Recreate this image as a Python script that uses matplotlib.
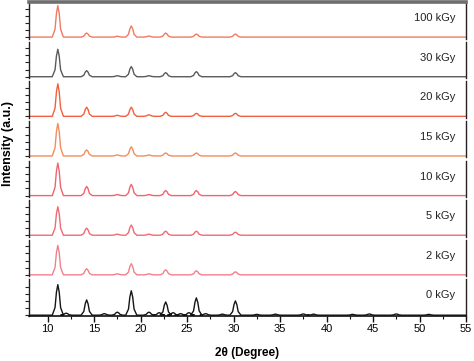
import matplotlib
matplotlib.use("Agg")
import matplotlib.pyplot as plt
import numpy as np

plt.rcParams['font.family'] = ['Liberation Sans', 'DejaVu Sans']

# ---- data ----
labels = ["100 kGy", "30 kGy", "20 kGy", "15 kGy", "10 kGy", "5 kGy", "2 kGy", "0 kGy"]
colors = ["#f07a62", "#5a5a5a", "#f0603e", "#f48c5c", "#ee6470", "#ef6a74", "#f2808a", "#151515"]

peak_pos = [11.1, 12.0, 14.2, 16.1, 17.5, 19.0, 20.9, 22.0, 22.7, 23.5, 24.3, 25.2,
            26.0, 27.0, 28.8, 30.2, 32.5, 34.5, 37.5, 38.6, 42.8, 44.6, 47.5, 51.0]

h_100 = [31, 0, 4, 0, 0.8, 11, 1, 0, 4, 0, 0, 0, 3, 0, 0, 3, 0, 0, 0, 0, 0, 0, 0, 0]
h_30  = [27, 0, 6, 0, 1, 10, 1, 0, 4, 0, 0, 0, 5, 0, 0, 4, 0, 0, 0, 0, 0, 0, 0, 0]
h_20  = [32, 0, 9, 0, 1, 9, 1.5, 0, 4, 0, 0, 0, 3, 0, 0, 3, 0, 0, 0, 0, 0, 0, 0, 0]
h_15  = [32, 0, 6, 0, 1, 9, 1, 0, 3, 0, 0, 0, 3, 0, 0, 3, 0, 0, 0, 0, 0, 0, 0, 0]
h_10  = [32, 0, 9, 0, 1, 11, 1, 0, 5, 0, 0, 0, 5, 0, 0, 4, 0, 0, 0, 0, 0, 0, 0, 0]
h_5   = [28, 0, 7, 0, 1, 10, 1, 0, 4, 0, 0, 0, 4, 0, 0, 3, 0, 0, 0, 0, 0, 0, 0, 0]
h_2   = [29, 0, 6, 0, 1, 11, 1, 0, 5, 0, 0, 0, 4, 0, 0, 3, 0, 0, 0, 0, 0, 0, 0, 0]
h_0   = [30, 2, 15, 1.5, 3, 24, 3, 2.5, 13, 2.5, 1.5, 2.5, 17, 1.5, 1, 14, 0.8, 1, 1.2, 1, 0.8, 1.2, 1.2, 0.8]

heights = [h_100, h_30, h_20, h_15, h_10, h_5, h_2, h_0]

xticks = [10, 15, 20, 25, 30, 35, 40, 45, 50, 55]

# ---- layout ----
W, H = 474, 361
fig = plt.figure(figsize=(W / 100, H / 100), dpi=100)
left_px, right_px = 29, 466
top_px, bottom_px = 2, 316
gap = 3.0
pitch = (bottom_px - top_px + gap) / 8
ph = pitch - gap

# peak outline: offsets (deg) and fraction of peak height
shape_dx = [-0.6, -0.3, -0.15, 0.0, 0.15, 0.3, 0.6]
shape_fy = [0.0, 0.25, 0.75, 1.0, 0.75, 0.25, 0.0]

for i, (lab, col, hs) in enumerate(zip(labels, colors, heights)):
    t = top_px + i * pitch
    b = t + ph
    ax = fig.add_axes([left_px / W, 1 - b / H, (right_px - left_px) / W, ph / H])
    xs = [8.0]
    ys = [0.0]
    for p, h in zip(peak_pos, hs):
        if h <= 0:
            continue
        xs += [p + d for d in shape_dx]
        ys += [h * f for f in shape_fy]
    xs.append(55.0)
    ys.append(0.0)
    ax.plot(xs, ys, color=col, lw=1.0)
    ax.set_xlim(8, 55)
    ax.set_ylim(-1.5, 34.5)
    ax.set_yticks(np.arange(0, 35, 7))
    ax.set_yticklabels([])
    ax.tick_params(axis='y', direction='out', length=3, width=0.8, color='#222222')
    for s in ('left', 'right'):
        ax.spines[s].set_linewidth(1.0)
        ax.spines[s].set_color('#222222')
    ax.spines['top'].set_visible(i == 0)
    if i == 0:
        ax.spines['top'].set_color('#6e6e6e')
        ax.spines['top'].set_linewidth(2.6)
    ax.text(0.975, 0.56, lab, transform=ax.transAxes, ha='right', va='center',
            fontsize=8, color='#222222')
    if i < 7:
        ax.spines['bottom'].set_visible(False)
        ax.set_xticks([])
    else:
        ax.set_ylim(-0.8, 35.2)
        ax.spines['bottom'].set_linewidth(1.2)
        ax.spines['bottom'].set_color('#111111')
        ax.set_xticks(xticks)
        ax.set_xticks(np.arange(12.5, 55, 5), minor=True)
        ax.tick_params(axis='x', which='major', direction='out', length=4, width=1.0,
                       labelsize=8, pad=2, color='#111111')
        ax.tick_params(axis='x', which='minor', direction='out', length=2.5, width=0.8,
                       color='#111111')

fig.text(247 / W, 1 - 353 / H, "2θ (Degree)", ha='center', va='center',
         fontsize=8.5, fontweight='bold')
fig.text(8 / W, 1 - 144 / H, "Intensity (a.u.)", rotation=90, ha='center', va='center',
         fontsize=9, fontweight='bold')

fig.savefig("out.png", dpi=100)
